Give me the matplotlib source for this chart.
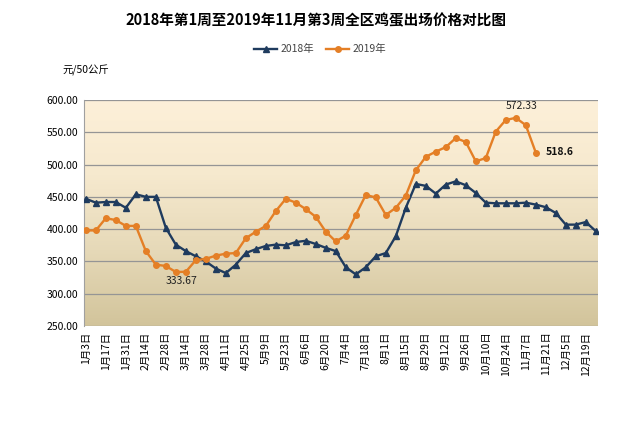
import numpy as np
import matplotlib
matplotlib.use('Agg')
import matplotlib.pyplot as plt
from matplotlib.colors import LinearSegmentedColormap

plt.rcParams['font.family'] = ['Noto Sans CJK SC', 'DejaVu Sans']

# weekly prices, yuan per 50 kg
price_2018 = [447, 441, 442, 442, 433, 454, 450, 450, 402, 376,
              366, 358, 350, 339, 332, 345, 363, 369, 374, 376,
              375, 380, 382, 377, 371, 366, 341, 330, 341, 358,
              363, 389, 433, 470, 467, 455, 469, 474, 468, 456,
              441, 440, 440, 440, 441, 438, 434, 425, 407, 407,
              411, 397]
price_2019 = [398, 398, 417, 414, 405, 405, 366, 345, 343, 333.67,
              334, 352, 354, 359, 362, 363, 386, 396, 405, 428,
              447, 441, 431, 419, 396, 381, 390, 422, 453, 449,
              422, 433, 452, 491, 512, 520, 527, 541, 535, 505,
              510, 551, 569, 572.33, 561, 518.6]

tick_labels = ['1月3日', '1月17日', '1月31日', '2月14日', '2月28日', '3月14日',
               '3月28日', '4月11日', '4月25日', '5月9日', '5月23日', '6月6日',
               '6月20日', '7月4日', '7月18日', '8月1日', '8月15日', '8月29日',
               '9月12日', '9月26日', '10月10日', '10月24日', '11月7日',
               '11月21日', '12月5日', '12月19日']

blue = '#1f3b5e'
orange = '#e47f26'

fig = plt.figure(figsize=(6.4, 4.29), dpi=100)
ax = fig.add_axes([0.131, 0.240, 0.803, 0.527])

x18 = np.arange(len(price_2018))
x19 = np.arange(len(price_2019))

# gradient background of the plot area
bg = LinearSegmentedColormap.from_list('bg', ['#d2c49b', '#e6d9b8', '#f6e9ce', '#fdf0d9'])
grad = np.linspace(0, 1, 256).reshape(-1, 1)
ax.imshow(grad, cmap=bg, origin='lower', aspect='auto',
          extent=[-0.2, len(price_2018) - 0.8, 250, 600], zorder=0)

ax.plot(x18, price_2018, color=blue, lw=1.7, marker='^', ms=4, label='2018年', zorder=3)
ax.plot(x19, price_2019, color=orange, lw=1.7, marker='o', ms=4, label='2019年', zorder=4)

ax.set_xlim(-0.2, len(price_2018) - 0.8)
ax.set_ylim(250, 600)
ax.set_yticks(np.arange(250, 601, 50))
ax.set_yticklabels(['%.2f' % v for v in np.arange(250, 601, 50)], fontsize=7.5)
ax.set_xticks(np.arange(0, len(price_2018), 2))
ax.set_xticklabels(tick_labels, rotation=90, fontsize=7.5)
ax.tick_params(axis='both', length=0, pad=4)
ax.grid(axis='y', color='#959595', lw=0.9, zorder=1)
ax.set_axisbelow(True)
for s in ['top', 'right', 'bottom']:
    ax.spines[s].set_visible(False)
ax.spines['left'].set_color('#a0a0a0')

# data labels
ax.text(9.6, 320, '333.67', fontsize=7.5, ha='center', va='center', color='#222222')
ax.text(43.6, 590, '572.33', fontsize=7.5, ha='center', va='center', color='#222222')
ax.text(46.0, 519.5, '518.6', fontsize=7.5, ha='left', va='center', color='#111111', weight='bold')

fig.text(0.494, 0.953, '2018年第1周至2019年11月第3周全区鸡蛋出场价格对比图',
         ha='center', va='center', fontsize=10.5, weight='bold')
fig.text(0.097, 0.835, '元/50公斤', ha='left', va='center', fontsize=7.5)

leg = fig.legend(loc='center', bbox_to_anchor=(0.5, 0.885), ncol=2, frameon=False,
                 fontsize=7.5, handlelength=2.2, columnspacing=1.2, handletextpad=0.3)
for t in leg.get_texts():
    t.set_color('#444444')

fig.savefig('out.png', dpi=100)
